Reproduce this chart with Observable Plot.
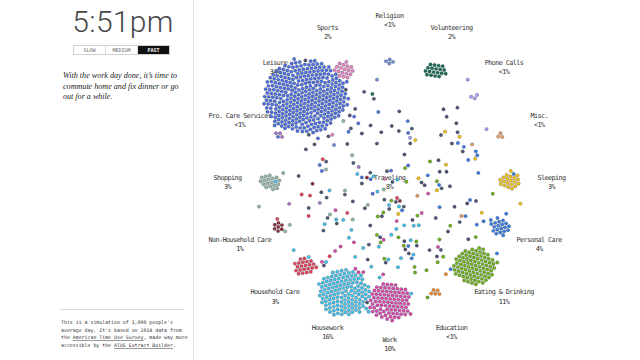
<!DOCTYPE html>
<html><head><meta charset="utf-8">
<script src="https://cdn.jsdelivr.net/npm/d3@7"></script>
<script src="https://cdn.jsdelivr.net/npm/@observablehq/plot@0.6"></script>
<style>
body{margin:0;background:#fff;width:640px;height:360px;overflow:hidden;position:relative}
#side{position:absolute;left:0;top:0;width:193px;height:360px;border-right:1px solid #e4e4e4}
#clock{position:absolute;left:60px;width:126px;top:6px;line-height:32px;text-align:center;font-family:Roboto,sans-serif;font-weight:300;font-size:30px;color:#484848;letter-spacing:0.3px}
#speed{position:absolute;left:73px;top:45px;width:97px;height:10px;border:1px solid #cfcfcf;display:flex;box-sizing:border-box}
#speed div{flex:1;text-align:center;font-family:"DejaVu Sans Mono",monospace;font-size:5px;line-height:8px;color:#666;border-right:1px solid #ddd}
#speed div.on{background:#111;color:#fff;border-right:none;font-weight:bold}
#note{position:absolute;left:63px;top:71px;font-family:"Liberation Serif",serif;font-style:italic;font-size:8.1px;line-height:10.5px;color:#222;white-space:nowrap;-webkit-font-smoothing:antialiased}
#rule{position:absolute;left:60px;top:309px;width:124px;border-top:1px solid #dcdcdc}
#foot{position:absolute;left:61px;top:319px;font-family:"DejaVu Sans Mono",monospace;font-size:4.9px;line-height:7.7px;color:#333;white-space:nowrap}
#foot u{text-decoration-color:#999}
#chart{position:absolute;left:195px;top:0}
</style></head>
<body>
<div id="side">
  <div id="clock">5:51pm</div>
  <div id="speed"><div>SLOW</div><div>MEDIUM</div><div class="on">FAST</div></div>
  <div id="note">With the work day done, it’s time to<br>commute home and fix dinner or go<br>out for a while.</div>
  <div id="rule"></div>
  <div id="foot">This is a simulation of 1,000 people's<br>average day. It's based on 2014 data from<br>the <u>American Time Use Survey</u>, made way more<br>accessible by the <u>ATUS Extract Builder</u>.</div>
</div>
<div id="chart"></div>
<script>
// Activities clockwise from the top of the ring; Traveling sits in the middle.
const activityNames = ["Religion","Volunteering","Phone Calls","Misc.","Sleeping","Personal Care","Eating & Drinking","Education","Work","Housework","Household Care","Non-Household Care","Shopping","Pro. Care Services","Leisure","Sports","Traveling"];
const shareLabels   = ["<1%","2%","<1%","<1%","3%","4%","11%","<1%","10%","16%","3%","1%","3%","<1%","34%","2%","8%"];
// people (of 1,000) doing each activity, and how many of them are still on their way there
const peopleTotal   = [6,20,6,6,30,40,110,6,100,160,30,10,30,6,340,20,80];
const peopleMoving  = [2,1,3,3,12,22,25,1,15,40,8,3,12,3,20,2,80];
const palette = ["#6d8fd6","#1e6f5c","#a99cf2","#e8a06a","#f2c318","#3b7fe6","#6fb31f","#ef8a35","#d84db1","#45c3ef","#e5465e","#8a3040","#93b9ab","#a57bc9","#4f73e3","#e585c6","#4e5878"];

const ring = activityNames.length - 1;
const angleOf = i => (-90 + i * 360 / ring) * Math.PI / 180;
const focus = (i, r) => i === ring ? {x: 0, y: 0} : {x: r * Math.cos(angleOf(i)), y: r * Math.sin(angleOf(i))};

// movers first (d3's initial layout spreads them over the middle), then the settled people
const movers = [];
activityNames.forEach((name, i) => {
  for (let k = 0; k < peopleMoving[i]; k++) movers.push({a: i, name, moving: true, key: (k + 0.5) / peopleMoving[i]});
});
movers.sort((p, q) => p.key - q.key || p.a - q.a);
const settled = [];
activityNames.forEach((name, i) => {
  for (let k = 0; k < peopleTotal[i] - peopleMoving[i]; k++) settled.push({a: i, name, moving: false});
});
const people = movers.concat(settled);

const pullX = d => d.moving ? (d.a === ring ? 0.008 : 0.013) : 0.1;
const pullY = d => d.moving ? (d.a === ring ? 0.008 : 0.013) : 0.14;
const sim = d3.forceSimulation(people)
  .force("x", d3.forceX(d => focus(d.a, 120).x).strength(pullX))
  .force("y", d3.forceY(d => focus(d.a, 120).y).strength(pullY))
  .force("collide", d3.forceCollide(2.05))
  .stop();
for (let t = 0; t < 300; t++) sim.tick();

const labels = activityNames.map((name, i) => ({name, share: shareLabels[i], ...focus(i, 162)}));

const W = 445, H = 360;
const chart = Plot.plot({
  width: W, height: H, margin: 0,
  x: {domain: [-194, 251], range: [0, W], axis: null},
  y: {domain: [-181, 179], range: [0, H], axis: null},
  color: {domain: activityNames, range: palette},
  style: {fontFamily: "'DejaVu Sans Mono', monospace", letterSpacing: "-0.6px", background: "transparent", color: "#333"},
  marks: [
    Plot.text(labels, {x: "x", y: "y", text: d => d.name + "\n" + d.share, fontSize: 6.8, lineHeight: 1.35}),
    Plot.dot(people, {x: "x", y: "y", r: 1.7, fill: "name", stroke: "#000", strokeOpacity: 0.35, strokeWidth: 0.6})
  ]
});
document.getElementById("chart").appendChild(chart);
</script>
</body></html>
